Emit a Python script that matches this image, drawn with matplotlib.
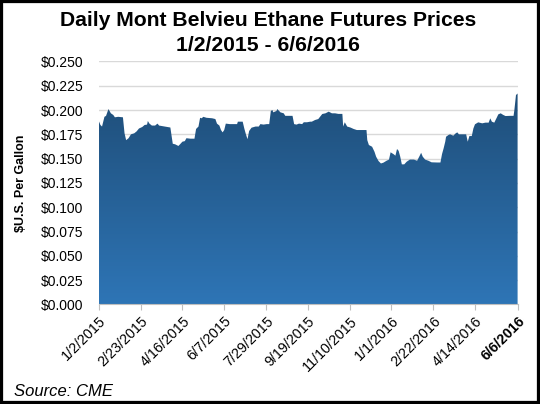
import matplotlib
matplotlib.use('Agg')
import matplotlib.pyplot as plt
import matplotlib.dates as mdates
from matplotlib.colors import LinearSegmentedColormap
from matplotlib.patches import Rectangle
import numpy as np
import pandas as pd

plt.rcParams['font.family'] = ['Liberation Sans', 'DejaVu Sans']

title1 = 'Daily Mont Belvieu Ethane Futures Prices'
title2 = '1/2/2015 - 6/6/2016'
ylabel = '$U.S. Per Gallon'
source = 'Source: CME'
start_date = '2015-01-02'

# days after 1/2/2015 and price ($/gal)
days = [0, 2, 4, 7, 9, 12, 15, 18, 20, 24, 30, 32, 34, 37, 40, 44, 47, 50, 54, 57,
        60, 61, 63, 66, 70, 73, 75, 82, 89, 92, 95, 99, 101, 104, 107, 109, 114, 119, 121, 124,
        126, 128, 130, 134, 141, 145, 147, 150, 152, 154, 156, 158, 163, 172, 173, 179, 181, 183, 185, 187,
        190, 195, 199, 201, 205, 209, 212, 214, 216, 217, 221, 222, 226, 230, 232, 238, 241, 243, 246, 249,
        253, 255, 259, 263, 265, 269, 273, 278, 282, 286, 290, 294, 298, 303, 304, 306, 309, 313, 317, 321,
        327, 333, 334, 336, 340, 343, 345, 348, 351, 354, 358, 361, 363, 367, 369, 371, 373, 375, 377, 380,
        383, 387, 392, 396, 399, 401, 403, 406, 410, 414, 421, 425, 427, 429, 431, 432, 435, 437, 441, 444,
        446, 448, 454, 457, 459, 461, 464, 466, 468, 472, 477, 481, 485, 487, 489, 492, 495, 497, 500, 503,
        506, 512, 516, 517, 519, 521]
prices = [0.1887, 0.1846, 0.1830, 0.1930, 0.1940, 0.2010, 0.1966, 0.1949, 0.1925, 0.1930,
          0.1925, 0.1760, 0.1690, 0.1710, 0.1750, 0.1760, 0.1780, 0.1810, 0.1825, 0.1846,
          0.1850, 0.1887, 0.1860, 0.1840, 0.1840, 0.1860, 0.1840, 0.1830, 0.1820, 0.1653,
          0.1647, 0.1630, 0.1647, 0.1674, 0.1680, 0.1710, 0.1705, 0.1705, 0.1805, 0.1830,
          0.1920, 0.1915, 0.1930, 0.1920, 0.1915, 0.1907, 0.1860, 0.1840, 0.1794, 0.1770,
          0.1794, 0.1860, 0.1855, 0.1855, 0.1880, 0.1880, 0.1810, 0.1750, 0.1700, 0.1784,
          0.1818, 0.1830, 0.1830, 0.1855, 0.1850, 0.1855, 0.1855, 0.1990, 0.2000, 0.1976,
          0.1990, 0.2010, 0.1976, 0.1966, 0.1940, 0.1940, 0.1940, 0.1855, 0.1850, 0.1860,
          0.1855, 0.1874, 0.1874, 0.1880, 0.1880, 0.1897, 0.1907, 0.1959, 0.1966, 0.1983,
          0.1966, 0.1966, 0.1960, 0.1960, 0.1830, 0.1874, 0.1830, 0.1820, 0.1805, 0.1794,
          0.1794, 0.1794, 0.1690, 0.1640, 0.1622, 0.1570, 0.1520, 0.1475, 0.1450, 0.1458,
          0.1478, 0.1490, 0.1565, 0.1544, 0.1530, 0.1599, 0.1580, 0.1520, 0.1441, 0.1441,
          0.1468, 0.1490, 0.1490, 0.1478, 0.1526, 0.1560, 0.1520, 0.1490, 0.1478, 0.1462,
          0.1460, 0.1460, 0.1547, 0.1606, 0.1674, 0.1725, 0.1743, 0.1750, 0.1736, 0.1760,
          0.1770, 0.1750, 0.1750, 0.1750, 0.1674, 0.1732, 0.1732, 0.1810, 0.1853, 0.1873,
          0.1863, 0.1870, 0.1870, 0.1914, 0.1880, 0.1870, 0.1920, 0.1955, 0.1966, 0.1950,
          0.1938, 0.1940, 0.1940, 0.2000, 0.2154, 0.2170]

tick_labels = ['1/2/2015', '2/23/2015', '4/16/2015', '6/7/2015', '7/29/2015', '9/19/2015',
               '11/10/2015', '1/1/2016', '2/22/2016', '4/14/2016', '6/6/2016']
y_ticks = [0.000, 0.025, 0.050, 0.075, 0.100, 0.125, 0.150, 0.175, 0.200, 0.225, 0.250]

x = mdates.date2num(pd.Timestamp(start_date)) + np.array(days, dtype=float)
y = np.array(prices)
xt = mdates.date2num(pd.to_datetime(tick_labels, format='%m/%d/%Y'))

fig = plt.figure(figsize=(5.4, 4.04), dpi=100)
fig.patch.set_facecolor('white')
ax = fig.add_axes([0.183, 0.2465, 0.7755, 0.6015])

# area with vertical gradient
poly = ax.fill_between(x, 0, y, facecolor='none', edgecolor='none')
cmap = LinearSegmentedColormap.from_list('blu', ['#2E75B6', '#1F4E79'])
grad = np.linspace(0, 1, 256).reshape(-1, 1)
im = ax.imshow(grad, cmap=cmap, origin='lower', aspect='auto',
               extent=[x[0], x[-1], 0, y.max()], zorder=2)
im.set_clip_path(poly.get_paths()[0], transform=ax.transData)

ax.set_xlim(x[0], x[-1])
ax.set_ylim(0, 0.25)
ax.set_yticks(y_ticks)
ax.set_yticklabels(['$%.3f' % v for v in y_ticks], fontsize=10)
ax.set_xticks(xt)
ax.set_xticklabels(tick_labels, rotation=45, ha='right', rotation_mode='anchor', fontsize=10.3)
ax.get_xticklabels()[-1].set_fontweight('bold')

ax.grid(axis='y', color='#D9D9D9', linewidth=1)
ax.set_axisbelow(True)
for s in ['left', 'right', 'top']:
    ax.spines[s].set_visible(False)
ax.spines['bottom'].set_color('#BFBFBF')
ax.tick_params(axis='y', length=0, pad=11)
ax.tick_params(axis='x', length=4, color='#BFBFBF', pad=3)

ax.set_ylabel(ylabel, fontsize=9, fontweight='bold', labelpad=10)
fig.text(0.497, 0.936, title1, ha='center', va='baseline', fontsize=15.2, fontweight='bold')
fig.text(0.497, 0.874, title2, ha='center', va='baseline', fontsize=15.2, fontweight='bold')
fig.text(0.026, 0.032, source, ha='left', va='center', fontsize=12, style='italic')

fig.add_artist(Rectangle((0, 0), 1, 1, transform=fig.transFigure, fill=False,
                         edgecolor='black', linewidth=4.5))

fig.savefig('out.png', dpi=100)
